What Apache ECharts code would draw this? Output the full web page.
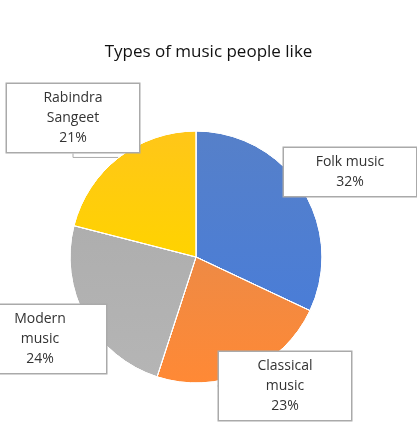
<!DOCTYPE html>
<html><head><meta charset="utf-8">
<script src="https://cdn.jsdelivr.net/npm/echarts@6/dist/echarts.min.js"></script>
<style>html,body{margin:0;padding:0;background:#fff}#c{width:417px;height:427px}</style>
</head><body><div id="c"></div>
<script>
const categories = ['Folk music', 'Classical\nmusic', 'Modern\nmusic', 'Rabindra\nSangeet'];
const values = [32, 23, 24, 21];
const colors = ['#4472C4', '#ED7D31', '#A5A5A5', '#FFC000'];
const labelPos = [[350, 172], [285, 386], [40, 339], [73, 118]];
const chart = echarts.init(document.getElementById('c'));
chart.setOption({
  title: {text: 'Types of music people like', left: 'center', top: 39,
    textStyle: {fontFamily: 'Open Sans', fontWeight: 'normal', fontSize: 17, color: '#111'}},
  series: [{
    type: 'pie', center: [196, 257], radius: 126, startAngle: 90, clockwise: true,
    data: categories.map((c, i) => ({name: c, value: values[i],
      itemStyle: {color: new echarts.graphic.LinearGradient(0, 0, 0, 1, [
        {offset: 0, color: echarts.color.lift(colors[i], 0.1)},
        {offset: 1, color: echarts.color.lift(colors[i], -0.1)}])}})),
    itemStyle: {borderColor: '#fff', borderWidth: 1},
    label: {show: true, position: 'outside', alignTo: 'none', overflow: 'none', width: 120,
      formatter: p => p.name + '\n' + p.value + '%',
      fontFamily: 'Open Sans', fontSize: 14, color: '#333', lineHeight: 20, align: 'center',
      backgroundColor: '#fff', borderColor: '#aaa', borderWidth: 1.5, padding: [4, 6]},
    labelLine: {show: true, length: 10, length2: 10, lineStyle: {color: '#aaa', width: 1}},
    labelLayout: p => ({x: labelPos[p.dataIndex][0], y: labelPos[p.dataIndex][1], align: 'center', verticalAlign: 'middle'})
  }]
});
</script></body></html>
